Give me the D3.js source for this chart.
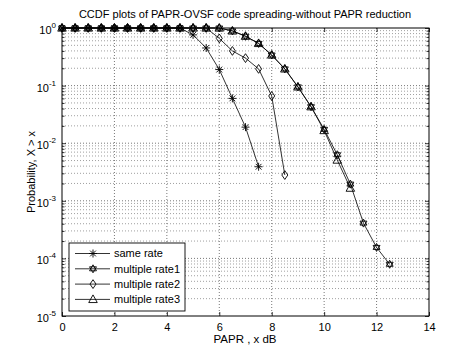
<!DOCTYPE html>
<html><head><meta charset="utf-8">
<script src="https://cdn.jsdelivr.net/npm/d3@7"></script>
<style>body{margin:0;background:#fff}svg{display:block}text{font-family:"Liberation Sans",Arial,sans-serif;fill:#000}</style>
</head><body><svg id="c" width="474" height="355"></svg>
<script>
const title = "CCDF plots of PAPR-OVSF code spreading-without PAPR reduction";
const xLabel = "PAPR , x dB";
const yLabel = "Probability, X > x";
const xTicks = [0,2,4,6,8,10,12,14];
const yExps = [0,-1,-2,-3,-4,-5];
const seriesNames = ["same rate","multiple rate1","multiple rate2","multiple rate3"];
const seriesMarkers = ["star","hexagram","diamond","triangle"];
const xSame  = [0,0.5,1,1.5,2,2.5,3,3.5,4,4.5,5,5.5,6,6.5,7,7.5];
const pSame  = [1,1,1,1,1,1,1,1,1,1,0.76,0.45,0.19,0.06,0.019,0.0039];
const xRate1 = [0,0.5,1,1.5,2,2.5,3,3.5,4,4.5,5,5.5,6,6.5,7,7.5,8,8.5,9,9.5,10,10.5,11,11.5,12,12.5];
const pRate1 = [1,1,1,1,1,1,1,1,1,1,1,1,1,0.89,0.72,0.54,0.34,0.195,0.095,0.043,0.0174,0.0063,0.00195,0.00041,0.000155,0.000079];
const xRate2 = [0,0.5,1,1.5,2,2.5,3,3.5,4,4.5,5,5.5,6,6.5,7,7.5,8,8.5];
const pRate2 = [1,1,1,1,1,1,1,1,1,1,1,1,0.66,0.40,0.30,0.195,0.066,0.0028];
const xRate3 = [0,0.5,1,1.5,2,2.5,3,3.5,4,4.5,5,5.5,6,6.5,7,7.5,8,8.5,9,9.5,10,10.5,11];
const pRate3 = [1,1,1,1,1,1,1,1,1,1,1,1,1,0.89,0.72,0.54,0.34,0.195,0.095,0.043,0.0166,0.0051,0.00166];

const svg = d3.select("#c");
const L=62, R=429, T=28, B=316;
const x = d3.scaleLinear().domain([0,14]).range([L,R]);
const y = d3.scaleLog().domain([1e-5,1]).range([B,T]);

// grid
const g = svg.append("g");
const minor = [];
for (let e=-5;e<0;e++) for (let m=2;m<=9;m++) minor.push(m*Math.pow(10,e));
const dash = "1,2";
g.selectAll(".ym").data(minor).enter().append("line")
  .attr("x1",L).attr("x2",R).attr("y1",d=>y(d)).attr("y2",d=>y(d))
  .attr("stroke","#777").attr("stroke-width",0.7).attr("stroke-dasharray",dash);
g.selectAll(".yM").data(yExps.slice(1,5).map(e=>Math.pow(10,e))).enter().append("line")
  .attr("x1",L).attr("x2",R).attr("y1",d=>y(d)).attr("y2",d=>y(d))
  .attr("stroke","#555").attr("stroke-width",0.8).attr("stroke-dasharray",dash);
g.selectAll(".xg").data(xTicks.slice(1,-1)).enter().append("line")
  .attr("y1",T).attr("y2",B).attr("x1",d=>x(d)).attr("x2",d=>x(d))
  .attr("stroke","#555").attr("stroke-width",0.8).attr("stroke-dasharray",dash);

// axes
const ax = svg.append("g").attr("transform",`translate(0,${B})`)
  .call(d3.axisBottom(x).tickValues(xTicks).tickSize(-4).tickPadding(7).tickFormat(d3.format("d")));
ax.select(".domain").remove();
ax.selectAll("text").attr("font-size",11);
svg.append("g").attr("transform",`translate(0,${T})`)
  .call(d3.axisTop(x).tickValues(xTicks).tickSize(-4).tickFormat(""))
  .select(".domain").remove();
const ay = svg.append("g").attr("transform",`translate(${L},0)`)
  .call(d3.axisLeft(y).tickValues(yExps.map(e=>Math.pow(10,e))).tickSize(-4).tickPadding(6).tickFormat(""));
ay.select(".domain").remove();
ay.selectAll(".tick").each(function(d){
  const t = d3.select(this).select("text");
  t.attr("font-size",11).attr("dy","0.5em").text("10");
  t.append("tspan").attr("font-size",8).attr("dy","-0.75em").text(Math.round(Math.log10(d)));
});
svg.append("g").attr("transform",`translate(${L},0)`)
  .call(d3.axisLeft(y).tickValues(minor).tickSize(-2.5).tickFormat(""))
  .select(".domain").remove();
svg.append("g").attr("transform",`translate(${R},0)`)
  .call(d3.axisRight(y).tickValues(minor).tickSize(-2.5).tickFormat(""))
  .select(".domain").remove();
svg.append("g").attr("transform",`translate(${R},0)`)
  .call(d3.axisRight(y).tickValues(yExps.map(e=>Math.pow(10,e))).tickSize(-4).tickFormat(""))
  .select(".domain").remove();
svg.selectAll(".tick line").attr("stroke","#000").attr("stroke-width",0.8);
svg.append("rect").attr("x",L).attr("y",T).attr("width",R-L).attr("height",B-T)
  .attr("fill","none").attr("stroke","#000").attr("stroke-width",1);

// markers
function markerPath(type, r){
  const p = d3.path();
  if (type==="star"){
    p.moveTo(-r,0);p.lineTo(r,0);p.moveTo(0,-r);p.lineTo(0,r);
    const k=r*0.72; p.moveTo(-k,-k);p.lineTo(k,k);p.moveTo(-k,k);p.lineTo(k,-k);
  } else if (type==="hexagram"){
    for (let t=0;t<2;t++){
      for (let i=0;i<3;i++){
        const a = (t*60 + i*120 - 90)*Math.PI/180;
        const px=r*Math.cos(a), py=r*Math.sin(a);
        if(i===0)p.moveTo(px,py);else p.lineTo(px,py);
      }
      p.closePath();
    }
  } else if (type==="diamond"){
    p.moveTo(0,-r*1.1);p.lineTo(r*0.75,0);p.lineTo(0,r*1.1);p.lineTo(-r*0.75,0);p.closePath();
  } else {
    p.moveTo(0,-r);p.lineTo(r*0.95,r*0.7);p.lineTo(-r*0.95,r*0.7);p.closePath();
  }
  return p.toString();
}
const series = [
  {xs:xSame,ps:pSame},{xs:xRate1,ps:pRate1},{xs:xRate2,ps:pRate2},{xs:xRate3,ps:pRate3}
];
const line = d3.line().x(d=>x(d[0])).y(d=>y(d[1]));
series.forEach((s,i)=>{
  const pts = s.xs.map((v,j)=>[v,s.ps[j]]);
  svg.append("path").attr("d",line(pts)).attr("fill","none").attr("stroke","#000").attr("stroke-width",0.8);
  svg.selectAll(null).data(pts).enter().append("path")
    .attr("transform",d=>`translate(${x(d[0])},${y(d[1])})`)
    .attr("d",markerPath(seriesMarkers[i], seriesMarkers[i]==="triangle"?4.5:4))
    .attr("fill","none").attr("stroke","#000").attr("stroke-width",0.9);
});

// legend
const lg = svg.append("g");
lg.append("rect").attr("x",69).attr("y",243).attr("width",116).attr("height",68)
  .attr("fill","#fff").attr("stroke","#000").attr("stroke-width",0.9);
seriesNames.forEach((n,i)=>{
  const yy = 253.5 + i*15.3;
  lg.append("line").attr("x1",75).attr("x2",110).attr("y1",yy).attr("y2",yy).attr("stroke","#000").attr("stroke-width",0.8);
  lg.append("path").attr("transform",`translate(93,${yy})`)
    .attr("d",markerPath(seriesMarkers[i], seriesMarkers[i]==="triangle"?4.5:4))
    .attr("fill","none").attr("stroke","#000").attr("stroke-width",0.9);
  lg.append("text").attr("x",114).attr("y",yy).attr("dy","0.35em").attr("font-size",11).text(n);
});

// labels
svg.append("text").attr("x",245).attr("y",18).attr("text-anchor","middle").attr("font-size",11).text(title);
svg.append("text").attr("x",245).attr("y",343).attr("text-anchor","middle").attr("font-size",11.5).text(xLabel);
svg.append("text").attr("transform","translate(35,172) rotate(-90)").attr("text-anchor","middle").attr("font-size",11).text(yLabel);
</script></body></html>
